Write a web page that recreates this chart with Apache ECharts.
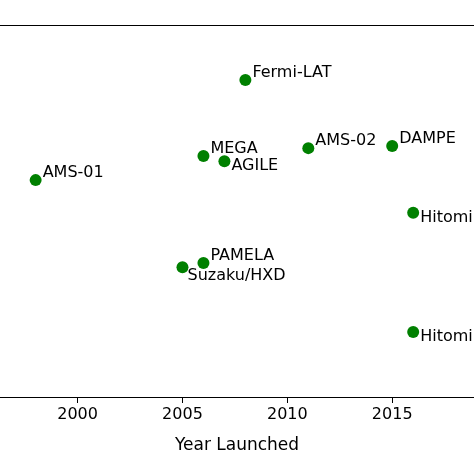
<!DOCTYPE html>
<html>
<head>
<meta charset="utf-8">
<script src="https://cdn.jsdelivr.net/npm/echarts@6/dist/echarts.min.js"></script>
<style>html,body{margin:0;padding:0;background:#fff}#c{width:474px;height:474px}</style>
</head>
<body>
<div id="c"></div>
<script>
var names = ['AMS-01', 'MEGA', 'AGILE', 'Fermi-LAT', 'AMS-02', 'DAMPE', 'Hitomi', 'PAMELA', 'Suzaku/HXD', 'Hitomi'];
var years = [1998, 2006, 2007, 2008, 2011, 2015, 2016, 2006, 2005, 2016];
var values = [58.3, 64.8, 63.4, 85.2, 66.9, 67.5, 49.5, 36.0, 34.9, 17.5];
var tickYears = [2000, 2005, 2010, 2015];
// labels placed under-right of these points
var below = ['AGILE', 'Suzaku/HXD', 'Hitomi'];

var data = names.map(function (n, i) {
  var b = below.indexOf(n) >= 0;
  return {
    name: n,
    value: [years[i], values[i]],
    label: {
      position: b ? 'bottom' : 'right',
      align: 'left',
      offset: b ? (n === 'Suzaku/HXD' ? [5, -6] : [7, -10]) : [0, -7]
    }
  };
});

var chart = echarts.init(document.getElementById('c'));
chart.setOption({
  animation: false,
  grid: { left: 0, right: 0, top: 25, bottom: 77 },
  xAxis: [{
    type: 'value', min: 1996.3, max: 2018.9,
    name: 'Year Launched', nameLocation: 'middle', nameGap: 40,
    nameTextStyle: { fontFamily: 'DejaVu Sans', fontSize: 17, color: '#000' },
    axisLine: { lineStyle: { color: '#000', width: 1.2 } },
    axisTick: { show: true, length: 6, customValues: tickYears, lineStyle: { color: '#000' } },
    axisLabel: {
      fontFamily: 'DejaVu Sans', fontSize: 16, color: '#000', margin: 10,
      customValues: tickYears,
      formatter: function (v) { return String(v); }
    },
    splitLine: { show: false }
  }, {
    type: 'value', position: 'top', min: 1996.3, max: 2018.9,
    axisLine: { show: true, onZero: false, lineStyle: { color: '#000', width: 1.2 } },
    axisTick: { show: false }, axisLabel: { show: false }, splitLine: { show: false }
  }],
  yAxis: {
    type: 'value', min: 0, max: 100,
    axisLine: { show: false }, axisTick: { show: false },
    axisLabel: { show: false }, splitLine: { show: false }
  },
  series: [{
    type: 'scatter',
    symbolSize: 12,
    itemStyle: { color: '#008000', opacity: 1 },
    label: {
      show: true, formatter: '{b}',
      fontFamily: 'DejaVu Sans', fontSize: 16, color: '#000', distance: 1
    },
    data: data
  }]
});
</script>
</body>
</html>
